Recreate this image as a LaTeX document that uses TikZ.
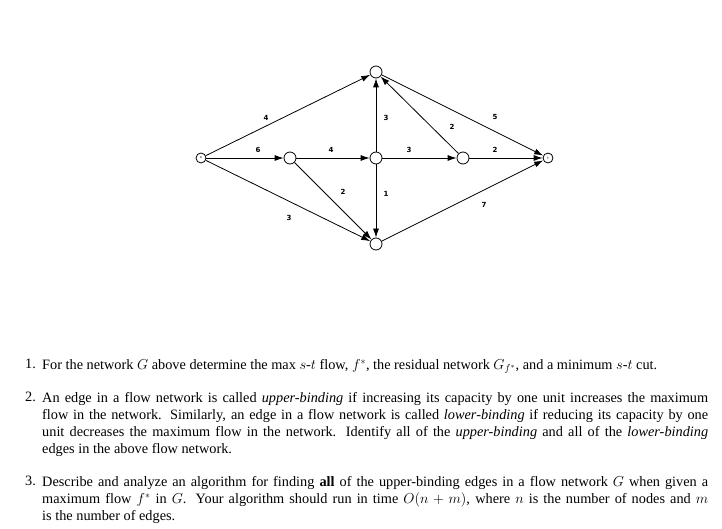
\documentclass[tikz,border=0pt]{standalone}
\usepackage{fontspec}
\setmainfont{Liberation Serif}
\newfontfamily\lblfont{DejaVu Sans}
\usetikzlibrary{arrows.meta}
\begin{document}
\begin{tikzpicture}[x=1pt,y=-1pt,
  vtx/.style={circle,draw,line width=0.8pt,minimum size=12pt,inner sep=0pt,fill=white},
  term/.style={circle,draw,line width=0.8pt,minimum size=10pt,inner sep=0pt,font=\lblfont\fontsize{3.5}{4}\selectfont,fill=white},
  edge/.style={line width=0.8pt,-{Latex[length=9pt,width=6pt]}},
  wlabel/.style={font=\lblfont\bfseries\fontsize{7}{8}\selectfont},
  item/.style={anchor=north west,text width=666pt,align=justify,inner sep=0pt,font=\fontsize{14.3}{17}\selectfont},
  num/.style={anchor=north west,inner sep=0pt,font=\fontsize{14.3}{17}\selectfont}]
\useasboundingbox (0,0) rectangle (722,529);
\node[term] (s) at (201,158) {s};
\node[vtx] (a) at (290,158) {};
\node[vtx] (c) at (376,158) {};
\node[vtx] (d) at (463,158) {};
\node[term] (t) at (548,158) {t};
\node[vtx] (u) at (376,72) {};
\node[vtx] (b) at (376,244) {};
\draw[edge] (s) -- (u);
\draw[edge] (s) -- (a);
\draw[edge] (s) -- (b);
\draw[edge] (a) -- (c);
\draw[edge] (a) -- (b);
\draw[edge] (c) -- (u);
\draw[edge] (c) -- (b);
\draw[edge] (c) -- (d);
\draw[edge] (d) -- (u);
\draw[edge] (u) -- (t);
\draw[edge] (d) -- (t);
\draw[edge] (b) -- (t);
\node[wlabel] (l1) at (266,118) {4};
\node[wlabel] (l2) at (258,150) {6};
\node[wlabel] (l3) at (289,218) {3};
\node[wlabel] (l4) at (331,150) {4};
\node[wlabel] (l5) at (343,192) {2};
\node[wlabel] (l6) at (386,118) {3};
\node[wlabel] (l7) at (386,194) {1};
\node[wlabel] (l8) at (409,150) {3};
\node[wlabel] (l9) at (452,127) {2};
\node[wlabel] (l10) at (495,117) {5};
\node[wlabel] (l11) at (495,150) {2};
\node[wlabel] (l12) at (484,205) {7};
\node[num] (n1) at (25,359) {1.};
\node[item] (i1) at (42,359) {For the network $G$ above determine the max $s$-$t$ flow, $f^*$, the residual network $G_{f^*}$, and a minimum $s$-$t$ cut.};
\node[num] (n2) at (25,392) {2.};
\node[item] (i2) at (42,392) {An edge in a flow network is called \emph{upper-binding} if increasing its capacity by one unit increases the maximum\linebreak flow in the network. Similarly, an edge in a flow network is called \emph{lower-binding} if reducing its capacity by one\linebreak unit decreases the maximum flow in the network. Identify all of the \emph{upper-binding} and all of the \emph{lower-binding}\linebreak edges in the above flow network.};
\node[num] (n3) at (25,476) {3.};
\node[item] (i3) at (42,476) {Describe and analyze an algorithm for finding \textbf{all} of the upper-binding edges in a flow network $G$ when given a\linebreak maximum flow $f^*$ in $G$. Your algorithm should run in time $O(n+m)$, where $n$ is the number of nodes and $m$\linebreak is the number of edges.};
\end{tikzpicture}
\end{document}
